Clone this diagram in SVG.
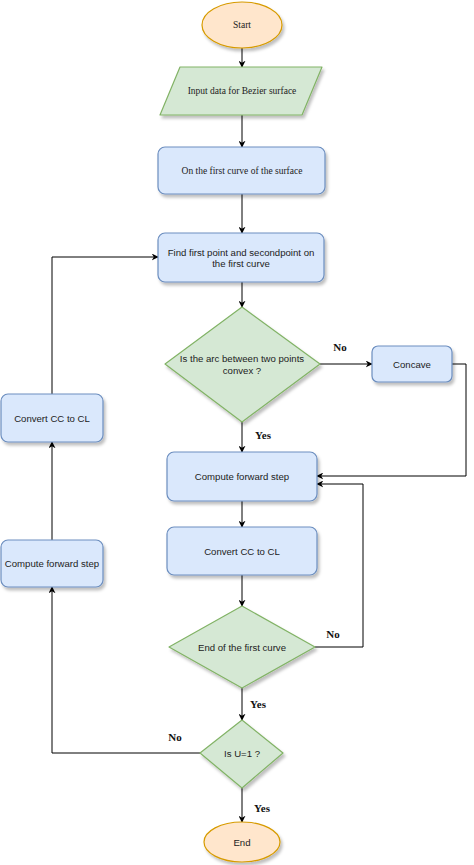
<svg xmlns="http://www.w3.org/2000/svg" width="474" height="865" viewBox="0 0 474 865">
<defs>
<filter id="sh" x="-20%" y="-20%" width="140%" height="150%">
<feDropShadow dx="2" dy="3" stdDeviation="1.5" flood-color="#000" flood-opacity="0.25"/>
</filter>
<marker id="ah" viewBox="0 0 10 10" refX="9" refY="5" markerWidth="7" markerHeight="7" orient="auto" markerUnits="userSpaceOnUse">
<path d="M0,0 L10,5 L0,10 L3,5 z" fill="#000"/>
</marker>
<style>
.term{fill:#ffe6cc;stroke:#d79b00;stroke-width:1.2;filter:url(#sh)}
.dec{fill:#d5e8d4;stroke:#82b366;stroke-width:1.2;filter:url(#sh)}
.proc{fill:#dae8fc;stroke:#6c8ebf;stroke-width:1.2;filter:url(#sh)}
.t{font-family:"Liberation Sans",Arial,sans-serif;font-size:9.6px;fill:#222;text-anchor:middle;dominant-baseline:central}
.s{font-family:"Liberation Serif","Times New Roman",serif;font-size:9.5px;fill:#222;text-anchor:middle;dominant-baseline:central}
.lb{font-family:"Liberation Serif","Times New Roman",serif;font-size:11px;font-weight:bold;fill:#111;text-anchor:middle;dominant-baseline:central}
.c{fill:none;stroke:#000;stroke-width:1;marker-end:url(#ah)}
</style>
</defs>
<rect width="474" height="865" fill="#fff"/>
<g id="connectors">
<path class="c" d="M242,48 V67"/>
<path class="c" d="M242,115 V147"/>
<path class="c" d="M242,194 V233"/>
<path class="c" d="M242,282 V307"/>
<path class="c" d="M320,364 H372"/>
<path class="c" d="M452,364 H466 V476 H317"/>
<path class="c" d="M242,422 V452"/>
<path class="c" d="M242,501 V527"/>
<path class="c" d="M242,575 V606"/>
<path class="c" d="M315,647 H363 V484 H317"/>
<path class="c" d="M242,688 V720"/>
<path class="c" d="M200,753 H52 V587"/>
<path class="c" d="M52,540 V442"/>
<path class="c" d="M52,394 V257 H158"/>
<path class="c" d="M242,788 V822"/>
<text class="lb" x="340" y="347">No</text>
<text class="lb" x="263" y="435">Yes</text>
<text class="lb" x="333" y="634">No</text>
<text class="lb" x="258" y="704">Yes</text>
<text class="lb" x="175" y="737">No</text>
<text class="lb" x="262" y="808">Yes</text>
</g>
<g id="start">
<ellipse class="term" cx="242" cy="25" rx="40" ry="23"/>
<text class="s" x="242" y="25">Start</text>
</g>
<g id="input">
<path class="dec" d="M180,67 H322 L302,115 H160 Z" stroke-linejoin="round"/>
<text class="s" x="242" y="91">Input data for Bezier surface</text>
</g>
<g id="firstcurve">
<rect class="proc" x="158" y="147" width="167" height="47" rx="7"/>
<text class="s" x="242" y="171">On the first curve of the surface</text>
</g>
<g id="findpoints">
<rect class="proc" x="158" y="233" width="166" height="49" rx="7"/>
<text class="t" x="241" y="252">Find first point and secondpoint on</text>
<text class="t" x="241" y="263">the first curve</text>
</g>
<g id="convexq">
<path class="dec" d="M242,307 L320,364 L242,422 L165,364 Z" stroke-linejoin="round"/>
<text class="t" x="242" y="358">Is the arc between two points</text>
<text class="t" x="242" y="370">convex ?</text>
</g>
<g id="concave">
<rect class="proc" x="372" y="346" width="80" height="36" rx="6"/>
<text class="t" x="412" y="364">Concave</text>
</g>
<g id="forward">
<rect class="proc" x="167" y="452" width="150" height="49" rx="7"/>
<text class="t" x="242" y="476">Compute forward step</text>
</g>
<g id="convert">
<rect class="proc" x="167" y="527" width="150" height="48" rx="7"/>
<text class="t" x="242" y="551">Convert CC to CL</text>
</g>
<g id="endcurveq">
<path class="dec" d="M242,606 L315,647 L242,688 L169,647 Z" stroke-linejoin="round"/>
<text class="t" x="242" y="647">End of the first curve</text>
</g>
<g id="uq">
<path class="dec" d="M242,720 L283,753 L242,788 L200,753 Z" stroke-linejoin="round"/>
<text class="t" x="242" y="753">Is U=1 ?</text>
</g>
<g id="end">
<ellipse class="term" cx="242" cy="842" rx="38" ry="20"/>
<text class="t" x="242" y="842">End</text>
</g>
<g id="leftforward">
<rect class="proc" x="1" y="540" width="102" height="47" rx="7"/>
<text class="t" x="52" y="563">Compute forward step</text>
</g>
<g id="leftconvert">
<rect class="proc" x="1" y="394" width="102" height="48" rx="7"/>
<text class="t" x="52" y="418">Convert CC to CL</text>
</g>
</svg>
